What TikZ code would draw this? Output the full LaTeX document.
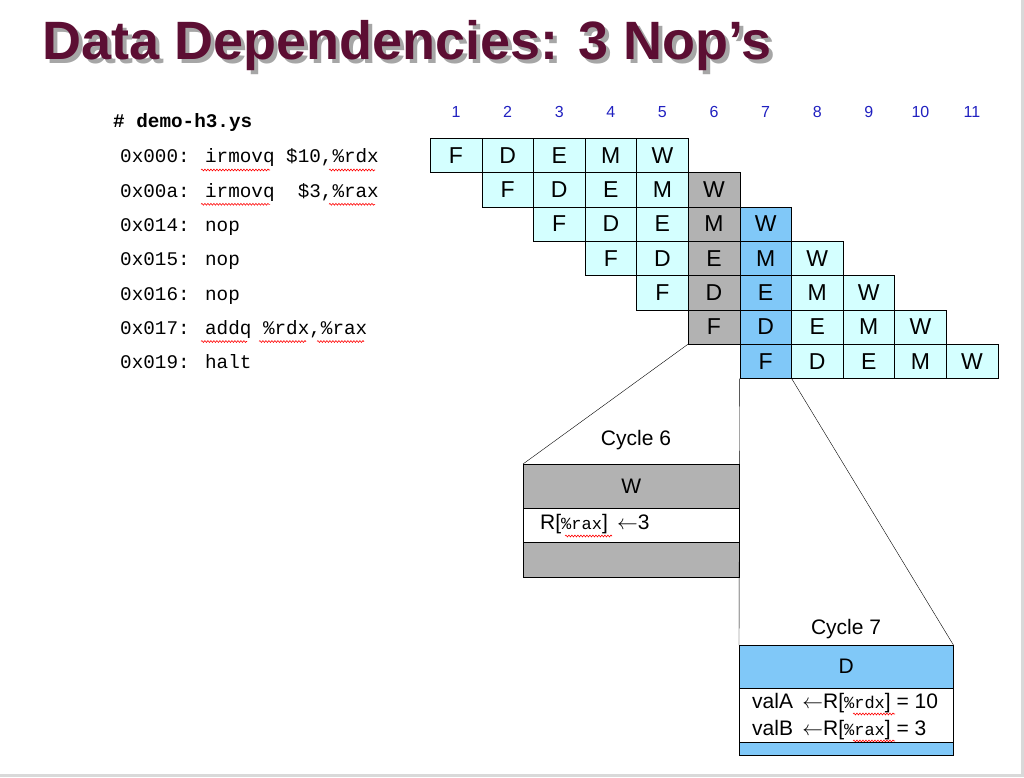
\documentclass[tikz,border=0pt]{standalone}
\usepackage{fontspec}
\setmainfont{Liberation Sans}
\newfontfamily\codefont{Liberation Mono}
\newcommand\regtxt{\codefont\fontsize{17}{17}\selectfont}
\usetikzlibrary{decorations.pathmorphing}
\definecolor{titlered}{HTML}{5C0E33}
\definecolor{cellcyan}{HTML}{D4FFFF}
\definecolor{cellgray}{HTML}{B2B2B2}
\definecolor{cellblue}{HTML}{80C8F8}
\definecolor{numblue}{HTML}{2020C0}
\begin{document}
\begin{tikzpicture}[x=1pt,y=-1pt,
  cell/.style={draw,minimum width=51.6pt,minimum height=34.3pt,inner sep=0pt,font=\fontsize{23}{23}\selectfont,anchor=north west},
  code/.style={anchor=base west,inner sep=0pt,font=\codefont\fontsize{19.3}{19.3}\selectfont},
  num/.style={font=\fontsize{16}{16}\selectfont,text=numblue},
  lbl/.style={font=\fontsize{21}{21}\selectfont},
  squig/.style={red,line width=0.6pt,decorate,decoration={snake,amplitude=0.9pt,segment length=3pt}}]
\useasboundingbox (0,0) rectangle (1024,778);
\draw[gray!30,line width=3pt] (0,775) -- (1022,775) -- (1022,0);
% title
\node[anchor=base west,inner sep=0pt,text=gray!70,font=\bfseries\fontsize{54}{54}\selectfont] at (46,64) {Data Dependencies: 3 Nop’s};
\node (title)[anchor=base west,inner sep=0pt,text=titlered,font=\bfseries\fontsize{54}{54}\selectfont] at (42,60) {Data Dependencies: 3 Nop’s};
% program
\node (file)[code,font=\codefont\bfseries\fontsize{19.3}{19.3}\selectfont] at (113,128) {\# demo-h3.ys};
\foreach \t [count=\i from 0] in {{0x000: irmovq \$10,\%rdx},{0x00a: irmovq \ \$3,\%rax},{0x014: nop},{0x015: nop},{0x016: nop},{0x017: addq \%rdx,\%rax},{0x019: halt}}
  \node (ins\i)[code] at (120,163+34.3*\i) {\t};
% spell-check underlines
\foreach \a/\b/\r in {201/270/0,329/375/0,201/270/1,329/375/1,201/247/5,259/306/5,317/364/5}
  \draw[squig] (\a,170+34.3*\r) -- (\b,170+34.3*\r);
% cycle numbers
\foreach \k in {1,...,11}
  \node (n\k)[num] at (456+51.6*\k-51.6,112) {\k};
% pipeline cells
\foreach \i in {0,...,6}
  \foreach \s [count=\j from 0] in {F,D,E,M,W}{
    \pgfmathtruncatemacro{\col}{\i+\j+1}
    \ifnum\col=6 \def\fc{cellgray}\else\ifnum\col=7 \def\fc{cellblue}\else\def\fc{cellcyan}\fi\fi
    \node (c\i\j)[cell,fill=\fc] at (430+51.6*\col-51.6,138+34.3*\i) {\s};
  }
% cycle 6 box
\node (c6t)[lbl] at (636,440) {Cycle 6};
\node (c6w)[draw,fill=cellgray,minimum width=216pt,minimum height=44pt,inner sep=0pt,anchor=north west,lbl] at (523,464) {W};
\node (c6m)[draw,fill=white,minimum width=216pt,minimum height=34pt,inner sep=0pt,anchor=north west] at (523,508) {};
\node[anchor=west,lbl,inner sep=0pt] at (540,524) {R[{\regtxt\%rax}] \,$\leftarrow$3};
\draw[squig] (565,536) -- (612,536);
\node (c6b)[draw,fill=cellgray,minimum width=216pt,minimum height=35pt,inner sep=0pt,anchor=north west] at (523,542) {};
% cycle 7 box
\node (c7t)[lbl] at (846,629) {Cycle 7};
\node (c7d)[draw,fill=cellblue,minimum width=214pt,minimum height=43pt,inner sep=0pt,anchor=north west,lbl] at (739,645) {D};
\node (c7m)[draw,fill=white,minimum width=214pt,minimum height=54pt,inner sep=0pt,anchor=north west] at (739,688) {};
\node[anchor=west,lbl,inner sep=0pt] at (752,703) {valA \,$\leftarrow$R[{\regtxt\%rdx}] = 10};
\node[anchor=west,lbl,inner sep=0pt] at (752,730) {valB \,$\leftarrow$R[{\regtxt\%rax}] = 3};
\draw[squig] (853,714) -- (895,714);
\draw[squig] (853,741) -- (895,741);
\node (c7b)[draw,fill=cellblue,minimum width=214pt,minimum height=13pt,inner sep=0pt,anchor=north west] at (739,742) {};
% zoom lines
\draw (c50.south west) -- (c6w.north west);
\draw (c60.south west) -- (c7d.north west);
\draw (c60.south east) -- (c7d.north east);
\end{tikzpicture}
\end{document}
